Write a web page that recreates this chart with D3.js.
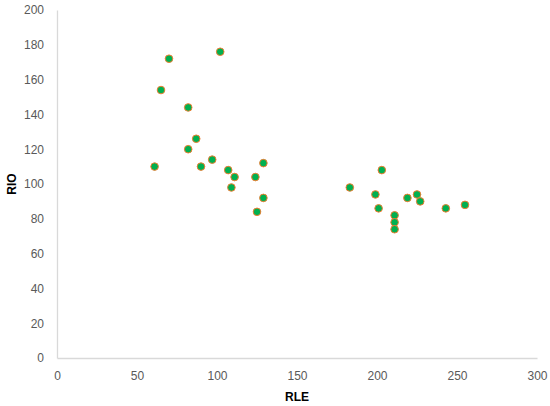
<!DOCTYPE html>
<html>
<head>
<meta charset="utf-8">
<title>RIO vs RLE</title>
<script src="https://cdn.jsdelivr.net/npm/d3@7"></script>
<style>
  body { margin: 0; background: #fff; }
  svg text { font-family: "Liberation Sans", Arial, sans-serif; }
</style>
</head>
<body>
<svg id="chart" width="550" height="406"></svg>
<script>
// values
var rle = [61, 70, 65, 102, 82, 87, 82, 90, 97, 107, 111, 109, 124, 129, 129, 125,
           203, 183, 199, 201, 211, 211, 211, 219, 225, 227, 243, 255];
var rio = [110, 172, 154, 176, 144, 126, 120, 110, 114, 108, 104, 98, 104, 112, 92, 84,
           108, 98, 94, 86, 82, 78, 74, 92, 94, 90, 86, 88];
var xTicks = [0, 50, 100, 150, 200, 250, 300];
var yTicks = [0, 20, 40, 60, 80, 100, 120, 140, 160, 180, 200];

var svg = d3.select("#chart");
var plotLeft = 57, plotRight = 537, plotTop = 10, plotBottom = 358;

var x = d3.scaleLinear().domain([0, 300]).range([plotLeft, plotRight]);
var y = d3.scaleLinear().domain([0, 200]).range([plotBottom, plotTop]);

// axes
var xAxis = svg.append("g")
  .attr("transform", "translate(0," + plotBottom + ")")
  .call(d3.axisBottom(x).tickValues(xTicks).tickSize(0).tickPadding(13));
var yAxis = svg.append("g")
  .attr("transform", "translate(" + plotLeft + ",0)")
  .call(d3.axisLeft(y).tickValues(yTicks).tickSize(0).tickPadding(13));

[xAxis, yAxis].forEach(function (g) {
  g.select(".domain").attr("stroke", "#d9d9d9").attr("stroke-width", 1.3);
  g.selectAll("text")
    .attr("fill", "#595959")
    .style("font-size", "12px")
    .style("font-family", "'Liberation Sans', Arial, sans-serif");
});

// points
var data = rle.map(function (v, i) { return { x: v, y: rio[i] }; });
svg.append("g").selectAll("circle")
  .data(data)
  .enter().append("circle")
  .attr("cx", function (d) { return x(d.x); })
  .attr("cy", function (d) { return y(d.y); })
  .attr("r", 3.8)
  .attr("fill", "#00b050")
  .attr("stroke", "#ed7d31")
  .attr("stroke-width", 1);

// axis titles
svg.append("text")
  .attr("x", (plotLeft + plotRight) / 2)
  .attr("y", 401)
  .attr("text-anchor", "middle")
  .style("font-size", "12px")
  .style("font-weight", "bold")
  .attr("fill", "#000")
  .text("RLE");

svg.append("text")
  .attr("transform", "translate(16," + (plotTop + plotBottom) / 2 + ") rotate(-90)")
  .attr("text-anchor", "middle")
  .style("font-size", "12px")
  .style("font-weight", "bold")
  .attr("fill", "#000")
  .text("RIO");
</script>
</body>
</html>
